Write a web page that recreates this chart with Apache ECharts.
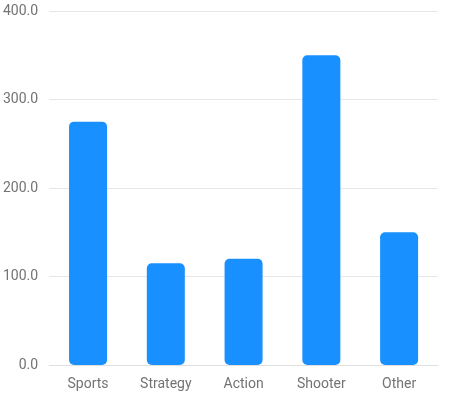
<!DOCTYPE html>
<html><head><meta charset="utf-8">
<script src="https://cdn.jsdelivr.net/npm/echarts@6/dist/echarts.min.js"></script>
<style>html,body{margin:0;padding:0;background:#fff}#c{width:450px;height:395px}</style>
</head><body><div id="c"></div>
<script>
const categories = ['Sports', 'Strategy', 'Action', 'Shooter', 'Other'];
const values = [275, 115, 120, 350, 150];
const chart = echarts.init(document.getElementById('c'), null, {renderer: 'canvas'});
chart.setOption({
  animation: false,
  grid: {left: 49, right: 12, top: 11, bottom: 30},
  xAxis: {
    type: 'category', data: categories,
    axisLine: {lineStyle: {color: '#e0e0e0'}},
    axisTick: {show: false},
    axisLabel: {color: '#737373', fontSize: 14, fontFamily: 'Roboto', margin: 12}
  },
  yAxis: {
    type: 'value', min: 0, max: 400, interval: 100,
    axisLine: {show: false}, axisTick: {show: false},
    splitLine: {lineStyle: {color: '#e6e6e6'}},
    axisLabel: {color: '#737373', fontSize: 14, fontFamily: 'Roboto', margin: 11,
      formatter: v => v.toFixed(1)}
  },
  series: [{
    type: 'bar', data: values, barWidth: 38,
    itemStyle: {color: '#1890FF', borderRadius: 5}
  }]
});
</script></body></html>
